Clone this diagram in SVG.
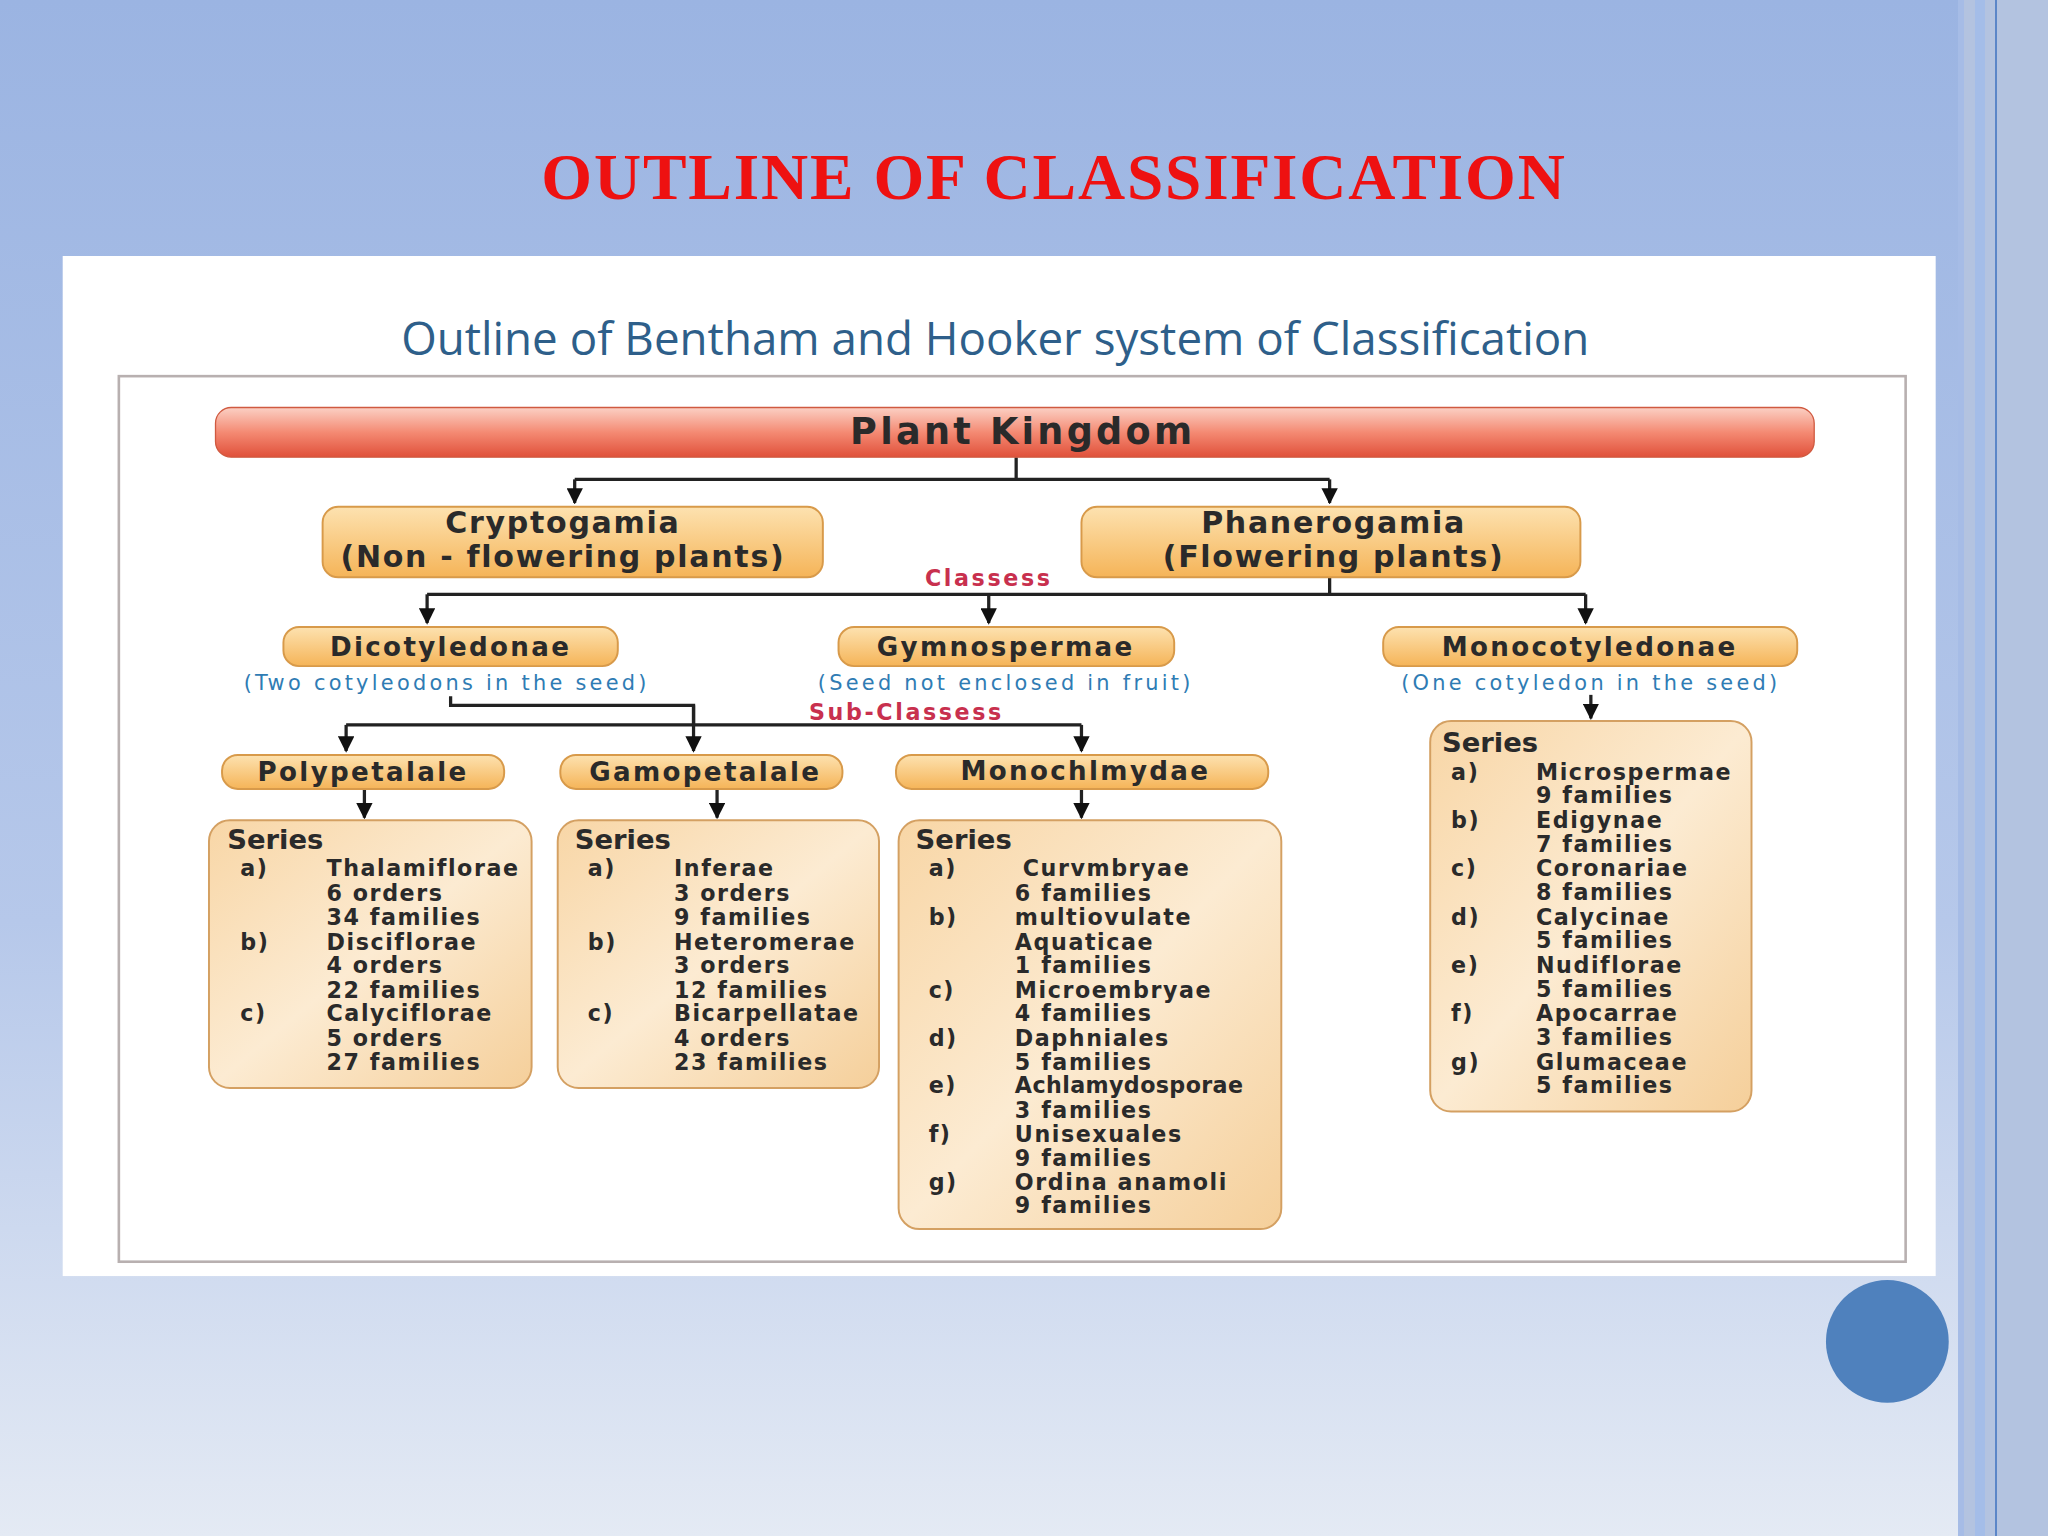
<svg xmlns="http://www.w3.org/2000/svg" width="2048" height="1536" viewBox="0 0 2048 1536">
<defs>
<linearGradient id="bg" x1="0" y1="0" x2="0" y2="1"><stop offset="0" stop-color="#9bb4e2"/><stop offset="0.6" stop-color="#b6c8ea"/><stop offset="1" stop-color="#e4eaf4"/></linearGradient>
<linearGradient id="red" x1="0" y1="0" x2="0" y2="1"><stop offset="0" stop-color="#fbd0c4"/><stop offset="0.5" stop-color="#f48a73"/><stop offset="1" stop-color="#e0503a"/></linearGradient>
<linearGradient id="or" x1="0" y1="0" x2="0" y2="1"><stop offset="0" stop-color="#fde2b0"/><stop offset="1" stop-color="#f5b458"/></linearGradient>
<linearGradient id="lt" x1="0" y1="0" x2="1" y2="1"><stop offset="0" stop-color="#f8d6a6"/><stop offset="0.5" stop-color="#fcebd2"/><stop offset="1" stop-color="#f5cf9a"/></linearGradient>
<marker id="ar" viewBox="0 0 10 10" refX="9" refY="5" markerWidth="5" markerHeight="5" orient="auto"><path d="M0,0 L10,5 L0,10 z" fill="#111"/></marker>
</defs>
<style>
.t{font-family:"DejaVu Sans",Verdana,sans-serif;font-weight:bold;fill:#2a2a2a}
.h{font-size:23px;letter-spacing:1.3px;text-anchor:middle}
.m{font-size:20px;letter-spacing:1.8px;text-anchor:middle}
.s{font-size:17px;letter-spacing:1.2px}
.se{font-size:21px}
.b{font-family:"DejaVu Sans",Verdana,sans-serif;font-size:16px;fill:#2f7cb4;text-anchor:middle;letter-spacing:2.5px}
.c{font-family:"DejaVu Sans",Verdana,sans-serif;font-weight:bold;font-size:17px;fill:#c8304e;text-anchor:middle;letter-spacing:2px}
.box{fill:url(#or);stroke:#d89a4a;stroke-width:1.5}
.sb{fill:url(#lt);stroke:#d4a062;stroke-width:1.5}
.ln{stroke:#222;stroke-width:2.5;fill:none}
</style>
<rect width="2048" height="1536" fill="url(#bg)"/>
<rect x="1958" y="0" width="90" height="1536" fill="#b3c3e0"/>
<rect x="1958" y="0" width="6" height="1536" fill="#a6bce6"/>
<rect x="1975" y="0" width="10" height="1536" fill="#a4bde8"/>
<rect x="1995" y="0" width="2" height="1536" fill="#5b86c8"/>
<g transform="scale(1.30612)">
<text x="807" y="152" font-family="Liberation Serif,serif" font-weight="bold" font-size="50" letter-spacing="1.4" fill="#ee1111" text-anchor="middle">OUTLINE OF CLASSIFICATION</text>
<rect x="48" y="196" width="1434" height="781" fill="#fff"/>
<text x="762" y="272" font-family="Open Sans,Liberation Sans,sans-serif" font-size="35" fill="#2e5f8a" text-anchor="middle">Outline of Bentham and Hooker system of Classification</text>
<rect x="91" y="288" width="1368" height="678" fill="none" stroke="#b8b0b0" stroke-width="2"/>
<g id="connectors">
<path class="ln" d="M778 350V367M440 367H1018"/>
<path class="ln" d="M440 367V385" marker-end="url(#ar)"/>
<path class="ln" d="M1018 367V385" marker-end="url(#ar)"/>
<path class="ln" d="M1018 442V455M327 455H1214"/>
<path class="ln" d="M327 455V477" marker-end="url(#ar)"/>
<path class="ln" d="M757 455V477" marker-end="url(#ar)"/>
<path class="ln" d="M1214 455V477" marker-end="url(#ar)"/>
<path class="ln" d="M345 533V540H531V555M265 555H828"/>
<path class="ln" d="M265 555V575" marker-end="url(#ar)"/>
<path class="ln" d="M531 540V575" marker-end="url(#ar)"/>
<path class="ln" d="M828 555V575" marker-end="url(#ar)"/>
<path class="ln" d="M1218 532V550" marker-end="url(#ar)"/>
<path class="ln" d="M279 604V626" marker-end="url(#ar)"/>
<path class="ln" d="M549 604V626" marker-end="url(#ar)"/>
<path class="ln" d="M828 604V626" marker-end="url(#ar)"/>
</g>
<text class="c" x="757" y="449">Classess</text>
<text class="c" x="694" y="551">Sub-Classess</text>
<g id="plant"><rect x="165" y="312" width="1224" height="38" rx="12" fill="url(#red)" stroke="#d05a40"/><text class="t" x="783" y="340" font-size="28" text-anchor="middle" letter-spacing="2.5">Plant Kingdom</text></g>
<g id="crypto"><rect class="box" x="247" y="388" width="383" height="54" rx="12"/><text class="t h" x="431" y="408">Cryptogamia</text><text class="t h" x="431" y="434">(Non - flowering plants)</text></g>
<g id="phanero"><rect class="box" x="828" y="388" width="382" height="54" rx="12"/><text class="t h" x="1021" y="408">Phanerogamia</text><text class="t h" x="1021" y="434">(Flowering plants)</text></g>
<g id="dicot"><rect class="box" x="217" y="480" width="256" height="30" rx="12"/><text class="t m" x="345" y="502">Dicotyledonae</text><text class="b" x="342" y="528">(Two cotyleodons in the seed)</text></g>
<g id="gymno"><rect class="box" x="642" y="480" width="257" height="30" rx="12"/><text class="t m" x="770" y="502">Gymnospermae</text><text class="b" x="770" y="528">(Seed not enclosed in fruit)</text></g>
<g id="mono"><rect class="box" x="1059" y="480" width="317" height="30" rx="12"/><text class="t m" x="1217" y="502">Monocotyledonae</text><text class="b" x="1218" y="528">(One cotyledon in the seed)</text></g>
<g id="poly"><rect class="box" x="170" y="578" width="216" height="26" rx="12"/><text class="t m" x="278" y="598">Polypetalale</text></g>
<g id="gamo"><rect class="box" x="429" y="578" width="216" height="26" rx="12"/><text class="t m" x="540" y="598">Gamopetalale</text></g>
<g id="monoch"><rect class="box" x="686" y="578" width="285" height="26" rx="12"/><text class="t m" x="831" y="597">Monochlmydae</text></g>
<g id="s1"><rect class="sb" x="160" y="628" width="247" height="205" rx="16"/>
<text class="t se" x="174" y="650">Series</text>
<g class="t s"><text x="184" y="671">a)</text><text x="250" y="671">Thalamiflorae</text><text x="250" y="690">6 orders</text><text x="250" y="708">34 families</text>
<text x="184" y="727">b)</text><text x="250" y="727">Disciflorae</text><text x="250" y="745">4 orders</text><text x="250" y="764">22 families</text>
<text x="184" y="782">c)</text><text x="250" y="782">Calyciflorae</text><text x="250" y="801">5 orders</text><text x="250" y="819">27 families</text></g></g>
<g id="s2"><rect class="sb" x="427" y="628" width="246" height="205" rx="16"/>
<text class="t se" x="440" y="650">Series</text>
<g class="t s"><text x="450" y="671">a)</text><text x="516" y="671">Inferae</text><text x="516" y="690">3 orders</text><text x="516" y="708">9 families</text>
<text x="450" y="727">b)</text><text x="516" y="727">Heteromerae</text><text x="516" y="745">3 orders</text><text x="516" y="764">12 families</text>
<text x="450" y="782">c)</text><text x="516" y="782">Bicarpellatae</text><text x="516" y="801">4 orders</text><text x="516" y="819">23 families</text></g></g>
<g id="s3"><rect class="sb" x="688" y="628" width="293" height="313" rx="16"/>
<text class="t se" x="701" y="650">Series</text>
<g class="t s"><text x="711" y="671">a)</text><text x="783" y="671">Curvmbryae</text><text x="777" y="690">6 families</text>
<text x="711" y="708">b)</text><text x="777" y="708">multiovulate</text><text x="777" y="727">Aquaticae</text><text x="777" y="745">1 families</text>
<text x="711" y="764">c)</text><text x="777" y="764">Microembryae</text><text x="777" y="782">4 families</text>
<text x="711" y="801">d)</text><text x="777" y="801">Daphniales</text><text x="777" y="819">5 families</text>
<text x="711" y="837">e)</text><text x="777" y="837" letter-spacing="0.3">Achlamydosporae</text><text x="777" y="856">3 families</text>
<text x="711" y="874">f)</text><text x="777" y="874">Unisexuales</text><text x="777" y="893">9 families</text>
<text x="711" y="911">g)</text><text x="777" y="911">Ordina anamoli</text><text x="777" y="929">9 families</text></g></g>
<g id="s4"><rect class="sb" x="1095" y="552" width="246" height="299" rx="16"/>
<text class="t se" x="1104" y="576">Series</text>
<g class="t s"><text x="1111" y="597">a)</text><text x="1176" y="597">Microspermae</text><text x="1176" y="615">9 families</text>
<text x="1111" y="634">b)</text><text x="1176" y="634">Edigynae</text><text x="1176" y="652">7 families</text>
<text x="1111" y="671">c)</text><text x="1176" y="671">Coronariae</text><text x="1176" y="689">8 families</text>
<text x="1111" y="708">d)</text><text x="1176" y="708">Calycinae</text><text x="1176" y="726">5 families</text>
<text x="1111" y="745">e)</text><text x="1176" y="745">Nudiflorae</text><text x="1176" y="763">5 families</text>
<text x="1111" y="782">f)</text><text x="1176" y="782">Apocarrae</text><text x="1176" y="800">3 families</text>
<text x="1111" y="819">g)</text><text x="1176" y="819">Glumaceae</text><text x="1176" y="837">5 families</text></g></g>
<circle cx="1445" cy="1027" r="47" fill="#4f81bd"/>
</g>
</svg>
